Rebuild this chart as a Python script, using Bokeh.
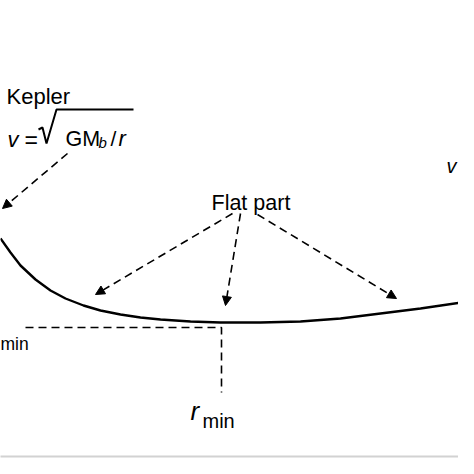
from bokeh.embed import file_html
from bokeh.resources import INLINE
from bokeh.models import Range1d, Arrow, NormalHead, Label
from bokeh.plotting import figure

# rotation curve (r to the right, v upwards)
r = [0, 10, 20, 35, 50, 65, 83, 100, 120, 140, 160, 190, 220, 260, 300, 340, 380, 420, 474]
v = [236, 222, 209, 195, 184, 176, 169, 164, 160, 157, 155, 153, 152, 152, 153, 156, 161, 166, 174]

r_min = 221
v_min = 147

FONT = "Liberation Sans"

p = figure(width=458, height=458, x_range=Range1d(0, 458), y_range=Range1d(16, 474),
           output_backend="svg", toolbar_location=None, min_border=0,
           x_axis_type=None, y_axis_type=None)
p.grid.grid_line_color = None
p.outline_line_color = None
p.background_fill_color = "white"

# grey rule at the bottom
p.line([-10, 490], [18, 18], line_color="#d2d2d2", line_width=2)

# curve
p.line(r, v, line_color="black", line_width=2.4)

# v_min / r_min guides
p.line([25, r_min, r_min], [v_min, v_min, 82], line_color="black", line_width=1.6, line_dash="8 5")

def arrow(x0, y0, x1, y1):
    p.add_layout(Arrow(x_start=x0, y_start=y0, x_end=x1, y_end=y1,
                       line_color="black", line_width=1.6, line_dash="8 5",
                       end=NormalHead(size=9, fill_color="black", line_color="black", line_width=1)))

arrow(67, 321, 2, 266)
arrow(232, 261, 95, 180)
arrow(240, 261, 225, 169)
arrow(257, 260, 396, 176)

def label(x, y, txt, size=21, style="normal"):
    p.add_layout(Label(x=x, y=y, text=txt, text_font=FONT, text_font_size="%.1fpx" % size,
                       text_font_style=style, text_color="black", text_baseline="alphabetic"))

label(6, 378, "Kepler", 22)

# v = sqrt(GM_b / r)
label(7, 335, "v", 22, "italic")
label(24, 335, "=", 23)
p.line([38, 42, 46, 56, 133], [345, 347, 331, 365, 365], line_color="black", line_width=2)
label(65, 336, "GM", 21.5)
label(98, 332, "b", 15, "italic")
label(110, 336, "/", 21)
label(118, 336, "r", 22, "italic")

label(211, 272, "Flat part", 21.5)

label(0, 131, "min", 17.5)

label(190, 64, "r", 26, "italic")
label(202, 54, "min", 20)

label(446, 309, "v", 20, "italic")

open("out.html", "w").write(file_html(p, INLINE))
